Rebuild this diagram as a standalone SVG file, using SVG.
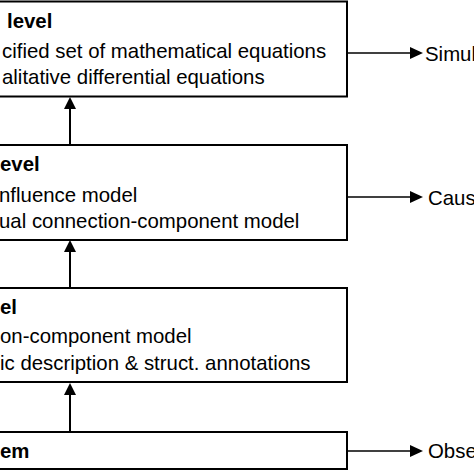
<svg xmlns="http://www.w3.org/2000/svg" width="474" height="474" viewBox="0 0 474 474">
<style>
.box{fill:#fff;stroke:#000;stroke-width:2}
.t{font-family:"Liberation Sans",Arial,sans-serif;font-size:20.4px;fill:#000}
.b{font-weight:bold}
.ln{stroke:#000;stroke-width:2;fill:none}
.hl{stroke:#000;stroke-width:1.6;fill:none}
</style>
<rect width="474" height="474" fill="#fff"/>
<g id="connectors">
<line class="ln" x1="70" y1="145" x2="70" y2="106"/>
<polygon points="70,97 64,109 76,109"/>
<line class="ln" x1="70" y1="288" x2="70" y2="249"/>
<polygon points="70,240 64,252 76,252"/>
<line class="ln" x1="70" y1="432" x2="70" y2="392"/>
<polygon points="70,383 64,395 76,395"/>
<line class="hl" x1="347" y1="53" x2="412" y2="53"/>
<polygon points="423,53 410,47 410,59"/>
<line class="hl" x1="347" y1="197" x2="412" y2="197"/>
<polygon points="423,197 410,191 410,203"/>
<line class="hl" x1="347" y1="451" x2="412" y2="451"/>
<polygon points="423,451 410,445 410,457"/>
</g>
<g id="node1">
<rect class="box" x="-10" y="1.5" width="357" height="95"/>
<text class="t b" x="7" y="28">level</text>
<text class="t" x="2" y="58">cified set of mathematical equations</text>
<text class="t" x="2" y="84">alitative differential equations</text>
</g>
<g id="node2">
<rect class="box" x="-10" y="145" width="357" height="95"/>
<text class="t b" x="0" y="171">evel</text>
<text class="t" x="-1" y="202">nfluence model</text>
<text class="t" x="-1" y="228">ual connection-component model</text>
</g>
<g id="node3">
<rect class="box" x="-10" y="288" width="357" height="94"/>
<text class="t b" x="0" y="314">el</text>
<text class="t" x="0" y="343">on-component model</text>
<text class="t" x="0" y="370">ic description &amp; struct. annotations</text>
</g>
<g id="node4">
<rect class="box" x="-10" y="432" width="357" height="37"/>
<text class="t b" x="0" y="458">em</text>
</g>
<g id="outputs">
<text class="t" x="425" y="61">Simul</text>
<text class="t" x="428" y="205">Caus</text>
<text class="t" x="428" y="458">Obse</text>
</g>
</svg>
